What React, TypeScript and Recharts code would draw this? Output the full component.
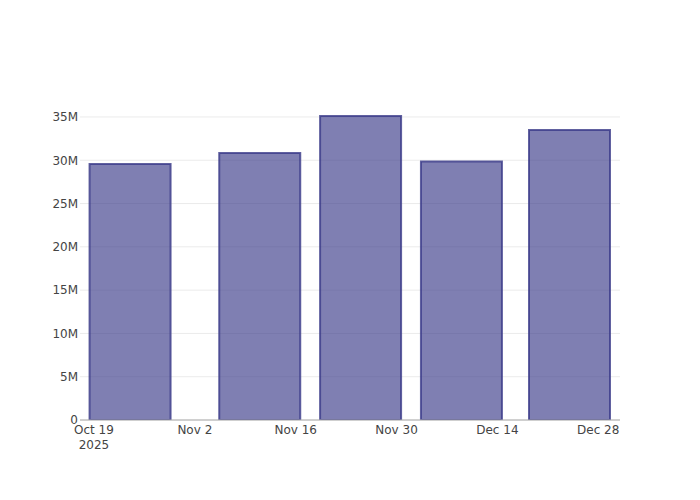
import { Bar, BarChart, CartesianGrid, XAxis, YAxis } from 'recharts';

const DAY = 86400000;

const dates = ['2025-10-24', '2025-11-11', '2025-11-25', '2025-12-09', '2025-12-24'];
const values = [29.57e6, 30.84e6, 35.1e6, 29.86e6, 33.5e6];
const xTickDates = ['2025-10-19', '2025-11-02', '2025-11-16', '2025-11-30', '2025-12-14', '2025-12-28'];
const yTicks = [0, 5e6, 10e6, 15e6, 20e6, 25e6, 30e6, 35e6];
const monthNames = ['Jan', 'Feb', 'Mar', 'Apr', 'May', 'Jun', 'Jul', 'Aug', 'Sep', 'Oct', 'Nov', 'Dec'];

const toTs = (d: string) => Date.parse(d + 'T00:00:00Z');

const data = dates.map((d, i) => ({ t: toTs(d), value: values[i] }));
const xTicks = xTickDates.map(toTs);
const start = xTicks[0];

const font = '"DejaVu Sans", sans-serif';

function DateTick({ x, y, payload, index }: any) {
  const d = new Date(payload.value);
  const label = `${monthNames[d.getUTCMonth()]} ${d.getUTCDate()}`;
  return (
    <text x={x} y={y} textAnchor="middle" fill="#444" fontSize={12} fontFamily={font}>
      <tspan x={x} dy={12}>{label}</tspan>
      {index === 0 && <tspan x={x} dy={15}>{d.getUTCFullYear()}</tspan>}
    </text>
  );
}

const fmtY = (v: number) => (v === 0 ? '0' : `${v / 1e6}M`);

export default function App() {
  return (
    <div style={{ position: 'absolute', left: 0, top: 0, width: 700, height: 500, background: '#fff' }}>
      <BarChart
        width={700}
        height={500}
        data={data}
        margin={{ top: 100, right: 80, bottom: 50, left: 0 }}
      >
        <CartesianGrid vertical={false} horizontalValues={yTicks} stroke="#ebebeb" />
        <XAxis
          dataKey="t"
          type="number"
          scale="linear"
          height={30}
          domain={[start - 1.94 * DAY, start + 73.02 * DAY]}
          ticks={xTicks}
          tick={<DateTick />}
          tickLine={false}
          tickSize={0}
          tickMargin={2}
          axisLine={{ stroke: '#aaa', strokeWidth: 1 }}
          allowDataOverflow
          interval={0}
        />
        <YAxis
          width={80}
          domain={[0, 36.96e6]}
          ticks={yTicks}
          tickFormatter={fmtY}
          axisLine={false}
          tickLine={false}
          tickSize={0}
          tickMargin={2}
          tick={{ fill: '#444', fontSize: 12, fontFamily: font }}
          allowDataOverflow
        />
        <Bar
          dataKey="value"
          barSize={81}
          fill="#3a3a88"
          fillOpacity={0.65}
          stroke="#3a3a88"
          strokeOpacity={0.8}
          strokeWidth={2}
          isAnimationActive={false}
        />
      </BarChart>
    </div>
  );
}
